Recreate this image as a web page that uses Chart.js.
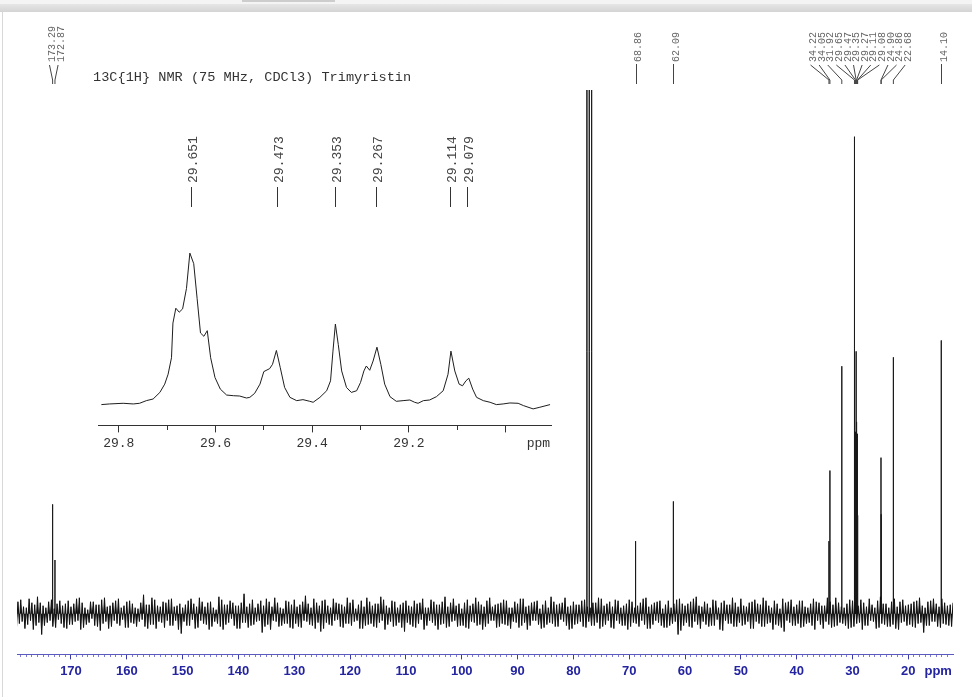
<!DOCTYPE html>
<html><head><meta charset="utf-8">
<script src="https://cdn.jsdelivr.net/npm/chart.js@4.4.1/dist/chart.umd.min.js"></script>
<style>
html,body{margin:0;padding:0;background:#fff;width:972px;height:697px;overflow:hidden;position:relative}
#main{position:absolute;left:0;top:0}
#inset{position:absolute;left:60px;top:120px}
.bar1{position:absolute;left:0;top:0;width:972px;height:4px;background:#f4f4f4}
.bar2{position:absolute;left:0;top:4px;width:972px;height:8px;background:linear-gradient(#e6e6e6,#d4d4d4)}
.tab{position:absolute;left:242px;top:0;width:93px;height:2px;background:#cdcdcd}
.edge{position:absolute;left:2px;top:12px;width:1px;height:685px;background:#d8d8d8}
</style></head><body>
<canvas id="main" width="972" height="697"></canvas>
<canvas id="inset" width="520" height="350"></canvas>
<div class="bar1"></div><div class="bar2"></div><div class="tab"></div><div class="edge"></div>
<script>
const title = '13C{1H} NMR (75 MHz, CDCl3) Trimyristin';

// Main spectrum peaks (ppm, relative height)
const peakPpm    = [173.29, 172.87, 77.58, 77.16, 76.73, 68.86, 62.09, 34.22, 34.05, 31.92, 29.65, 29.47, 29.35, 29.27, 29.11, 29.08, 24.90, 24.86, 22.68, 14.10];
const peakHeight = [110,    54,     900,   900,   900,   73,    113,   73,    144,   249,   480,   183,   264,   193,   181,   99,    157,   100,   258,   275];

// Labelled peaks at the top of the spectrum
const peakLabels = [173.29, 172.87, 68.86, 62.09, 34.22, 34.05, 31.92, 29.65, 29.47, 29.35, 29.27, 29.11, 29.08, 24.90, 24.86, 22.68, 14.10];

// Axis tick labels
const majorTicks = [170, 160, 150, 140, 130, 120, 110, 100, 90, 80, 70, 60, 50, 40, 30, 20];
const ppmTickAt = 14.65;

// Baseline noise excursions (estimated), four interleaved series every 0.25 ppm:
// noiseUpper at 180-i, noiseLower2 at 179.75-i, noiseUpper2 at 179.5-i, noiseLower at 179.25-i
const noiseUpper = [
 9,14,6,11,17,8,12,5,13,10,
 7,15,11,4,12,9,16,8,13,6,
 12,10,5,19,9,14,7,11,15,8,
 6,13,10,16,7,12,4,14,9,11,
 8,20,10,6,13,15,7,11,5,12,
 14,9,18,6,11,13,8,15,10,7,
 11,5,13,16,8,10,14,6,12,9,
 13,7,10,15,6,12,9,17,11,8,
 5,14,10,12,7,16,9,11,13,6,
 10,15,8,12,5,13,17,9,11,7,
 12,9,14,6,11,15,10,7,13,8,
 14,6,11,16,9,12,5,13,10,15,
 8,12,17,7,10,14,6,13,9,11,
 15,7,12,10,16,8,13,5,11,14,
 9,13,6,15,11,8,12,16,7,10,
 13,8,11,15,6,17,10,12,7,14,
 9,12,16,6,13,10,15,8,11];
const noiseUpper2 = [
 12,7,15,9,11,6,14,10,8,13,
 10,16,6,12,9,14,7,11,15,8,
 13,6,11,9,16,8,12,14,7,10,
 9,15,7,12,11,6,17,9,13,8,
 11,7,14,10,8,12,16,6,13,9,
 7,12,10,15,8,14,6,11,9,16,
 14,9,7,12,10,17,8,13,6,11,
 8,13,11,6,14,9,12,7,15,10,
 11,8,16,9,13,7,10,14,6,12,
 15,7,11,13,9,6,12,10,16,8,
 9,13,7,11,16,8,12,14,6,10,
 12,8,15,7,11,13,9,6,14,10,
 10,15,8,12,6,13,11,9,16,7,
 8,11,14,9,13,6,10,15,12,7,
 13,7,10,12,8,16,9,11,6,14,
 11,14,7,9,13,10,6,15,12,8,
 10,13,8,12,15,7,11,9];
const noiseLower = [
 -10,-15,-7,-12,-21,-9,-13,-6,-14,-11,
 -8,-16,-11,-5,-13,-10,-15,-7,-12,-14,
 -9,-13,-6,-15,-11,-8,-14,-12,-7,-20,
 -12,-6,-14,-10,-16,-8,-13,-11,-5,-15,
 -9,-14,-11,-7,-13,-16,-8,-12,-10,-15,
 -13,-7,-11,-15,-18,-9,-12,-6,-14,-10,
 -8,-15,-12,-10,-14,-7,-11,-13,-9,-18,
 -11,-14,-6,-12,-9,-16,-10,-13,-7,-12,
 -14,-8,-12,-16,-10,-7,-13,-11,-15,-9,
 -12,-16,-7,-11,-14,-9,-13,-6,-12,-15,
 -10,-13,-8,-12,-15,-11,-14,-7,-12,-16,
 -9,-13,-11,-15,-7,-12,-14,-10,-21,-12,
 -13,-8,-15,-11,-12,-6,-17,-10,-13,-9,
 -11,-15,-8,-13,-10,-16,-12,-18,-9,-12,
 -14,-10,-12,-7,-15,-11,-13,-9,-12,-14,
 -10,-16,-12,-8,-14,-11,-13,-15,-9,-12,
 -13,-10,-19,-12,-8,-14,-11,-13];
const noiseLower2 = [
 -13,-8,-11,-16,-9,-12,-7,-14,-10,-15,
 -11,-7,-14,-9,-12,-17,-8,-13,-10,-6,
 -14,-10,-8,-13,-11,-15,-9,-7,-12,-16,
 -8,-12,-15,-7,-11,-13,-10,-16,-9,-12,
 -15,-9,-12,-8,-19,-11,-7,-13,-10,-14,
 -10,-14,-8,-12,-9,-15,-11,-7,-13,-10,
 -12,-7,-15,-11,-13,-9,-16,-8,-12,-14,
 -9,-13,-10,-16,-7,-12,-11,-14,-8,-13,
 -12,-15,-9,-11,-13,-7,-14,-10,-12,-8,
 -14,-9,-12,-7,-15,-11,-10,-13,-8,-16,
 -11,-8,-14,-12,-9,-13,-7,-15,-10,-12,
 -13,-10,-7,-15,-11,-9,-14,-12,-8,-17,
 -9,-14,-11,-8,-13,-12,-16,-7,-10,-13,
 -12,-8,-15,-10,-13,-9,-11,-14,-7,-12,
 -10,-13,-9,-16,-11,-8,-14,-12,-10,-15,
 -13,-9,-12,-7,-15,-10,-13,-11,-16,-8,
 -11,-14,-9,-12,-8,-13,-10,-12];

// Inset (expansion 29.0 - 29.8 ppm)
const insetPpm = [29.836,29.819,29.791,29.770,29.757,29.743,29.729,29.715,29.705,29.698,29.691,29.688,29.682,29.675,29.668,29.660,29.653,29.645,29.638,29.631,29.624,29.617,29.610,29.601,29.590,29.577,29.563,29.550,29.536,29.529,29.519,29.508,29.500,29.488,29.482,29.474,29.466,29.457,29.446,29.432,29.419,29.405,29.398,29.384,29.370,29.362,29.357,29.352,29.346,29.339,29.329,29.319,29.308,29.300,29.293,29.288,29.281,29.274,29.266,29.258,29.250,29.239,29.226,29.212,29.198,29.188,29.181,29.170,29.157,29.143,29.129,29.119,29.113,29.105,29.096,29.089,29.082,29.076,29.068,29.060,29.046,29.032,29.019,29.005,28.991,28.974,28.963,28.943,28.929,28.908];
const insetIntensity = [18,20,22,20,22,30,35,55,80,110,160,265,310,298,308,370,477,445,340,235,225,242,160,100,65,47,45,44,38,40,52,80,118,127,140,182,130,70,40,30,33,28,25,40,60,90,180,262,200,120,70,55,60,85,120,135,122,150,192,140,80,42,28,30,32,25,22,30,32,42,60,110,180,120,80,75,90,98,65,40,30,25,18,20,23,22,15,5,10,18];
const insetLabels = [29.651, 29.473, 29.353, 29.267, 29.114, 29.079];
const insetMajorTicks = [29.8, 29.6, 29.4, 29.2, 29.0];
const insetTickText   = ['29.8', '29.6', '29.4', '29.2', ''];
const insetMinorTicks = [29.7, 29.5, 29.3, 29.1];
const insetPpmTickAt = 28.932;

// ---- build datasets ----
const noiseData = [];
for (let i = 0; i < noiseUpper.length; i++) {
  noiseData.push({x: 180 - i, y: noiseUpper[i]});
  if (i < noiseLower.length) {
    noiseData.push({x: 179.75 - i, y: noiseLower2[i]});
    noiseData.push({x: 179.5 - i, y: noiseUpper2[i]});
    noiseData.push({x: 179.25 - i, y: noiseLower[i]});
  }
}
const peakData = [];
peakPpm.forEach((p, i) => {
  peakData.push({x: p, y: 0}, {x: p, y: peakHeight[i]}, {x: p, y: 0}, {x: p, y: null});
});

const isMajor = v => majorTicks.some(t => Math.abs(t - v) < 1e-6);

const mainLabelPlugin = {
  id: 'mainLabels',
  afterDraw(chart) {
    const ctx = chart.ctx, xs = chart.scales.x;
    ctx.save();
    ctx.fillStyle = '#333';
    ctx.font = '13.6px "Liberation Mono", monospace';
    ctx.textBaseline = 'middle';
    ctx.textAlign = 'left';
    ctx.fillText(title, 93, 77);

    // declutter label positions
    const sp = 8.6;
    const items = peakLabels.map(v => ({v, p: xs.getPixelForValue(v)})).sort((a, b) => a.p - b.p);
    let groups = items.map(it => ({m: [it], c: it.p}));
    let changed = true;
    while (changed) {
      changed = false;
      for (let i = 0; i < groups.length - 1; i++) {
        const a = groups[i], b = groups[i + 1];
        const aR = a.c + (a.m.length - 1) / 2 * sp;
        const bL = b.c - (b.m.length - 1) / 2 * sp;
        if (bL - aR < sp) {
          const m = a.m.concat(b.m);
          const c = m.reduce((s, it) => s + it.p, 0) / m.length;
          groups.splice(i, 2, {m, c});
          changed = true; break;
        }
      }
    }
    ctx.font = '10px "Liberation Mono", monospace';
    ctx.fillStyle = '#666';
    ctx.strokeStyle = '#444';
    ctx.lineWidth = 1;
    groups.forEach(g => {
      g.m.forEach((it, k) => {
        const lx = g.c + (k - (g.m.length - 1) / 2) * sp;
        ctx.save();
        ctx.translate(lx + 3, 62);
        ctx.rotate(-Math.PI / 2);
        ctx.fillText(it.v.toFixed(2), 0, 0);
        ctx.restore();
        ctx.beginPath();
        if (Math.abs(lx - it.p) < 0.6) {
          ctx.moveTo(Math.round(it.p) + 0.5, 64);
          ctx.lineTo(Math.round(it.p) + 0.5, 84);
        } else {
          ctx.moveTo(lx, 65);
          ctx.lineTo(it.p, 80);
          ctx.lineTo(it.p, 84);
        }
        ctx.stroke();
      });
    });
    ctx.restore();
  }
};

new Chart(document.getElementById('main'), {
  type: 'line',
  data: {datasets: [
    {data: noiseData, borderColor: '#111', backgroundColor: '#111', borderWidth: 1, fill: 'origin', pointRadius: 0, tension: 0},
    {data: peakData, borderColor: '#1a1a1a', borderWidth: 1, fill: false, pointRadius: 0, tension: 0, spanGaps: false}
  ]},
  options: {
    responsive: false, animation: false, devicePixelRatio: 1,
    layout: {padding: {left: 17, right: 19, top: 90, bottom: 14}},
    plugins: {legend: {display: false}, tooltip: {enabled: false}},
    scales: {
      x: {
        type: 'linear', reverse: true, min: 12, max: 179.67,
        afterBuildTicks: s => {
          const t = [{value: ppmTickAt}];
          for (let v = 13; v <= 179; v++) t.push({value: v});
          t.sort((a, b) => a.value - b.value);
          s.ticks = t;
        },
        ticks: {
          autoSkip: false, maxRotation: 0, minRotation: 0, padding: 4,
          color: '#2424a0', font: {family: '"Liberation Sans", Arial, sans-serif', size: 13, weight: 'bold'},
          callback: v => isMajor(v) ? String(v) : (Math.abs(v - ppmTickAt) < 1e-6 ? 'ppm' : '')
        },
        grid: {
          drawOnChartArea: false, drawTicks: true, tickLength: 5, tickWidth: 1,
          tickColor: c => (c.tick && Math.abs(c.tick.value - ppmTickAt) < 1e-6) ? 'rgba(0,0,0,0)' : (c.tick && isMajor(c.tick.value) ? '#3a3aa6' : '#7b7bd0'),
          tickBorderDash: c => (c.tick && isMajor(c.tick.value)) ? [] : [2, 20]
        },
        border: {display: true, color: '#5a5ac0', width: 1}
      },
      y: {display: false, min: -41, max: 527}
    }
  },
  plugins: [mainLabelPlugin]
});

// ---- inset ----
const near = (arr, v) => arr.findIndex(t => Math.abs(t - v) < 1e-6);
const insetLabelPlugin = {
  id: 'insetLabels',
  afterDraw(chart) {
    const ctx = chart.ctx, xs = chart.scales.x, top = chart.chartArea.top;
    ctx.save();
    ctx.font = '13px "Liberation Mono", monospace';
    ctx.fillStyle = '#444';
    ctx.strokeStyle = '#333';
    ctx.lineWidth = 1;
    ctx.textBaseline = 'middle';
    ctx.textAlign = 'left';
    insetLabels.forEach(v => {
      const p = Math.round(xs.getPixelForValue(v));
      ctx.save();
      ctx.translate(p + 2.5, top + 53);
      ctx.rotate(-Math.PI / 2);
      ctx.fillText(v.toFixed(3), 0, 0);
      ctx.restore();
      ctx.beginPath();
      ctx.moveTo(p + 0.5, top + 57);
      ctx.lineTo(p + 0.5, top + 77);
      ctx.stroke();
    });
    ctx.restore();
  }
};

new Chart(document.getElementById('inset'), {
  type: 'line',
  data: {datasets: [{
    data: insetPpm.map((x, i) => ({x, y: insetIntensity[i]})),
    borderColor: '#1e1e1e', borderWidth: 1, fill: false, pointRadius: 0, tension: 0
  }]},
  options: {
    responsive: false, animation: false, devicePixelRatio: 1,
    layout: {padding: {left: 38, right: 29, top: 10, bottom: 16}},
    plugins: {legend: {display: false}, tooltip: {enabled: false}},
    scales: {
      x: {
        type: 'linear', reverse: true, min: 28.906, max: 29.843,
        afterBuildTicks: s => {
          s.ticks = [...insetMajorTicks, ...insetMinorTicks, insetPpmTickAt].sort((a, b) => a - b).map(v => ({value: v}));
        },
        ticks: {
          autoSkip: false, maxRotation: 0, minRotation: 0, padding: 3,
          color: '#333', font: {family: '"Liberation Mono", monospace', size: 13},
          callback: v => {
            const i = near(insetMajorTicks, v);
            if (i >= 0) return insetTickText[i];
            if (Math.abs(v - insetPpmTickAt) < 1e-6) return 'ppm';
            return '';
          }
        },
        grid: {
          drawOnChartArea: false, drawTicks: true, tickLength: 7, tickWidth: 1,
          tickColor: c => (c.tick && Math.abs(c.tick.value - insetPpmTickAt) < 1e-6) ? 'rgba(0,0,0,0)' : '#333',
          tickBorderDash: c => (c.tick && near(insetMinorTicks, c.tick.value) >= 0) ? [4, 20] : []
        },
        border: {display: true, color: '#333', width: 1}
      },
      y: {display: false, min: -45, max: 850}
    }
  },
  plugins: [insetLabelPlugin]
});
</script>
</body></html>
